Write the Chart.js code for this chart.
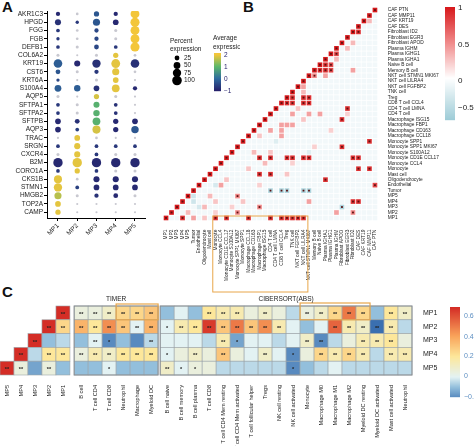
<!DOCTYPE html>
<html>
<head>
<meta charset="utf-8">
<script src="https://cdn.jsdelivr.net/npm/chart.js@4/dist/chart.umd.min.js"></script>
<style>
  body { margin: 0; background: #fff; width: 474px; height: 446px; position: relative; overflow: hidden; font-family: "Liberation Sans", Arial, sans-serif; }
  .box { position: absolute; }
  .tag { position: absolute; font-size: 15px; font-weight: bold; color: #111; }
</style>
</head>
<body>
<div class="tag" style="left:2px;top:-2px">A</div>
<div class="tag" style="left:243px;top:-2px">B</div>
<div class="tag" style="left:2px;top:283px">C</div>
<div class="box" style="left:0;top:0;width:240px;height:285px"><canvas id="chartA"></canvas></div>
<div class="box" style="left:160px;top:0;width:314px;height:295px"><canvas id="chartB"></canvas></div>
<div class="box" style="left:0;top:285px;width:474px;height:161px"><canvas id="chartC"></canvas></div>
<script>
// ---------- panel A data ----------
const genesA = ['AKR1C3','HPGD','FGG','FGB','DEFB1','COL6A2','KRT19','CST6','KRT6A','S100A4','AQP5','SFTPA1','SFTPA2','SFTPB','AQP3','TRAC','SRGN','CXCR4','B2M','CORO1A','CKS1B','STMN1','HMGB2','TOP2A','CAMP'];
const programs = ['MP1','MP2','MP3','MP4','MP5'];
const pctA = [
  [20,8,30,20,85],[40,12,55,35,90],[15,8,20,10,85],[12,8,20,10,85],[15,10,25,15,90],
  [10,5,10,30,8],[80,40,75,85,80],[25,10,20,55,8],[12,5,10,35,5],[50,45,35,65,20],
  [10,5,30,10,5],[15,10,40,15,5],[15,10,45,15,5],[35,25,65,30,35],[35,15,70,30,60],
  [5,35,8,5,5],[15,40,15,15,15],[10,40,15,10,10],[95,95,95,95,95],[15,30,15,10,10],
  [70,8,40,40,40],[75,15,35,35,35],[55,10,20,25,10],[35,5,5,5,5],[30,5,5,5,5]
];
const avgA = [
  [-0.9,-0.6,-0.3,-0.9,2],[-0.8,-0.7,-0.3,-0.9,2],[-0.7,-0.6,-0.5,-0.7,2],[-0.7,-0.6,-0.5,-0.7,2],[-0.7,-0.6,-0.5,-0.7,2],
  [-0.6,-0.5,-0.6,1.9,-0.5],[-0.2,-0.9,-0.8,1.9,-0.8],[-0.3,-0.6,-0.7,1.9,-0.5],[-0.5,-0.5,-0.5,1.9,-0.5],[-0.2,-0.2,-0.8,1.9,-0.9],
  [-0.6,-0.6,1.8,-0.6,-0.6],[-0.7,-0.7,0.9,-0.8,-0.6],[-0.7,-0.7,0.9,-0.8,-0.6],[-0.9,-0.8,0.9,-0.9,-0.9],[-0.9,-0.6,1.8,-0.9,-0.3],
  [-0.5,1.9,-0.5,-0.5,-0.5],[-0.7,1.9,-0.7,-0.7,-0.7],[-0.7,1.9,-0.7,-0.7,-0.7],[-0.9,1.9,-0.9,-0.9,-0.9],[-0.7,1.9,-0.7,-0.7,-0.7],
  [1.9,-0.6,-0.9,-0.9,-0.9],[1.9,-0.6,-0.9,-0.9,-0.9],[1.6,-0.6,-0.8,-0.9,-0.7],[1.9,-0.5,-0.5,-0.5,-0.5],[1.9,-0.5,-0.5,-0.5,-0.5]
];

// ---------- panel B data ----------
const cellTypesB = ['MP1','MP2','MP3','MP4','MP5','Tumor','Endothelial','Oligodendrocyte','Mast cell','Monocyte','Monocyte CCL4','Monocyte CD1E CCL17','Monocyte S100A12','Monocyte SPP1 MKI67','Monocyte SPP1','Macrophage CCL18','Macrophage CD163','Macrophage FBP1','Macrophage ISG15','CD4 T cell','CD4 T cell LMNA','CD8 T cell CCL4','Treg','TNK cell','NKT cell FGFBP2','NKT cell LILRA4','NKT cell STMN1 MKI67','Memory B cell','Naive B cell','Plasma IGHA1','Plasma IGHG1','Plasma IGHM','Fibroblast APOD','Fibroblast EGR3','Fibroblast ID2','CAF DES','CAF KRT19','CAF MMP11','CAF PTN'];
const baselineB = -0.08;
// [row, col, correlation]
const notableB = [
  [34,35,0.9],[30,31,0.8],[28,29,0.9],[28,30,0.8],[27,28,0.9],[27,29,0.9],[27,30,0.8],[27,34,0.4],[26,27,0.5],[26,29,0.4],
  [22,23,0.9],[22,25,0.9],[22,26,0.9],[21,22,0.9],[21,23,0.9],[21,25,0.9],[21,26,0.9],[20,33,0.9],[19,23,0.4],[19,26,0.4],
  [19,28,0.4],[18,32,0.9],[17,21,0.4],[17,22,0.4],[17,23,0.4],[16,19,0.4],[16,21,0.4],[15,21,0.4],[14,37,0.9],[13,32,0.9],
  [11,17,0.9],[11,19,0.9],[11,22,0.9],[11,23,0.9],[11,25,0.9],[11,26,0.9],[11,34,0.9],[11,35,0.9],[9,35,0.9],[9,37,0.9],
  [8,17,0.9],[8,19,0.9],[7,29,0.9],[6,38,0.8],[5,19,-0.5],[5,21,-0.5],[5,22,-0.5],[5,25,-0.5],[5,26,-0.5],[3,34,0.9],
  [3,35,0.9],[3,26,0.4],[2,17,0.5],[2,32,-0.5],[1,31,0.4],[1,34,0.5],[0,3,0.9],[0,5,0.4],[0,9,0.9],[0,11,0.9],
  [0,15,0.9],[0,19,0.9],[0,21,0.9],[0,22,0.9],[0,23,0.9],[0,24,0.9],[0,25,0.9],[4,13,0.5],[1,13,0.5],[6,10,0.4],
  [24,25,0.4],[23,25,0.3],[31,33,0.3],[29,31,0.3],[32,34,0.3],[12,16,0.3],[10,18,0.3],[36,37,0.3],
  [1,4,0.3],[2,7,0.3],[3,9,0.25],[4,8,0.3],[7,11,0.25],[9,15,0.25],[12,19,0.25],[15,17,0.25],[18,25,0.25],[20,24,0.25],
  [0,7,0.25],[1,9,0.2],[2,12,0.2],[3,14,0.25],[6,17,0.2],[8,22,0.25],[10,23,0.2],[13,27,0.2],[16,30,0.2],[19,33,0.2],
  [4,5,-0.3],[6,9,-0.25],[3,5,-0.3],[2,6,-0.25],[12,26,-0.2],[14,20,-0.2]
];

// ---------- panel C data ----------
const rowsC = ['MP1','MP2','MP3','MP4','MP5'];
const triColsC = ['MP5','MP4','MP3','MP2','MP1'];
const triValuesC = [
  [null,null,null,null,0.68],
  [null,null,null,0.68,0.25],
  [null,null,0.68,-0.1,-0.05],
  [null,0.68,-0.05,0.2,0.2],
  [0.68,0.05,-0.15,0.05,-0.1]
];
const triSigC = [
  ['','','','','**'],['','','','**','**'],['','','**','',''],['','**','','**','**'],['**','**','','**','']
];
const timerColsC = ['B cell','T cell CD4','T cell CD8','Neutrophil','Macrophage','Myeloid DC'];
const timerValuesC = [
  [0.05,0.05,0.1,0.25,0.25,0.3],
  [0.35,0.2,0.45,0.3,0.0,0.35],
  [-0.1,0.0,-0.2,-0.1,-0.2,-0.05],
  [0.05,0.15,0.1,0.2,0.2,0.2],
  [-0.1,-0.1,0.0,-0.1,-0.1,-0.1]
];
const timerSigC = [
  ['**','**','**','**','**','**'],['**','**','**','**','**','**'],['','**','*','','','**'],['**','**','**','**','**','**'],['','','*','','','']
];
const ciberColsC = ['B cell naive','B cell memory','B cell plasma','T cell CD8','T cell CD4 Mem resting','T cell CD4 Mem activated','T cell follicular helper','Tregs','NK cell resting','NK cell activated','Monocyte','Macrophage M0','Macrophage M1','Macrophage M2','Myeloid DC resting','Myeloid DC activated','Mast cell activated','Neutrophil'];
const ciberValuesC = [
  [-0.1,0.0,-0.1,0.2,0.15,0.15,0.05,0.1,0.05,-0.05,0.05,0.1,0.25,0.5,0.25,-0.1,0.2,0.1],
  [0.0,0.15,0.2,0.65,0.3,0.5,0.3,0.45,0.15,0.0,-0.1,0.0,0.55,0.15,0.1,-0.25,0.15,-0.05],
  [0.0,0.0,0.0,-0.05,0.15,-0.15,0.0,0.0,-0.05,0.0,0.1,-0.2,-0.05,0.05,0.15,0.15,0.2,0.05],
  [0.0,0.05,0.1,0.05,0.3,0.05,0.0,0.1,0.0,-0.2,0.05,0.25,0.15,0.25,0.15,-0.05,0.15,0.15],
  [0.1,0.0,0.05,0.05,-0.05,-0.05,-0.05,-0.05,-0.05,-0.2,-0.1,-0.05,0.0,-0.05,-0.05,-0.05,-0.05,-0.05]
];
const ciberSigC = [
  ['','','','**','**','**','','**','','','**','**','**','**','**','','**','**'],
  ['*','**','**','**','**','**','**','**','**','','','','**','**','**','**','**',''],
  ['','','','','**','*','','','','','**','**','','','**','**','**',''],
  ['*','','**','','**','','','**','','*','','**','**','**','**','','**','**'],
  ['**','*','*','','','','','','','*','','','','','','','','']
];

const FONT = '"Liberation Sans", Arial, sans-serif';

// ---------- colour helpers ----------
function hexRgb(h) { return [1,3,5].map(i => parseInt(h.substr(i,2),16)); }
function makeRamp(stops) {
  return function (v) {
    if (v <= stops[0][0]) return stops[0][1];
    for (let i = 1; i < stops.length; i++) {
      if (v <= stops[i][0]) {
        const t = (v - stops[i-1][0]) / (stops[i][0] - stops[i-1][0]);
        const a = hexRgb(stops[i-1][1]), b = hexRgb(stops[i][1]);
        const c = a.map((x, k) => Math.round(x + (b[k] - x) * t));
        return `rgb(${c[0]},${c[1]},${c[2]})`;
      }
    }
    return stops[stops.length-1][1];
  };
}
const colorA = makeRamp([[-1,'#26226c'],[0,'#2f6c9e'],[1,'#5cb86a'],[2,'#f3c63a']]);
const colorB = makeRamp([[-0.6,'#9ccbd6'],[0,'#ffffff'],[0.5,'#f08a8a'],[1,'#d7191c']]);
const colorC = makeRamp([[-0.25,'#3a6fb0'],[-0.1,'#93bfdc'],[0,'#e3f2f3'],[0.2,'#fde79a'],[0.4,'#f9a35a'],[0.68,'#d42d26']]);

function vBar(ctx, x, y0, y1, w, ramp, vTop, vBot) {
  for (let y = y0; y < y1; y++) {
    ctx.fillStyle = ramp(vTop + (vBot - vTop) * (y - y0) / (y1 - y0));
    ctx.fillRect(x, y, w, 1.2);
  }
}

// draws cells centred on every point of each dataset
function cellPlugin(wUnits, hUnits, gridColor) {
  return {
    id: 'cells',
    afterDatasetsDraw(chart) {
      const { ctx, scales } = chart;
      const cw = Math.abs(scales.x.getPixelForValue(wUnits) - scales.x.getPixelForValue(0));
      const ch = Math.abs(scales.y.getPixelForValue(hUnits) - scales.y.getPixelForValue(0));
      ctx.save();
      chart.data.datasets.forEach((ds, di) => {
        chart.getDatasetMeta(di).data.forEach((el, i) => {
          const d = ds.data[i];
          ctx.fillStyle = d.fill;
          ctx.fillRect(el.x - cw / 2, el.y - ch / 2, cw, ch);
          if (gridColor) {
            ctx.strokeStyle = gridColor; ctx.lineWidth = 0.6;
            ctx.strokeRect(el.x - cw / 2, el.y - ch / 2, cw, ch);
          }
          if (d.sig) {
            ctx.fillStyle = '#222';
            ctx.font = 'bold 5.5px ' + FONT;
            ctx.textAlign = 'center'; ctx.textBaseline = 'middle';
            ctx.fillText(d.sig, el.x, el.y + 1.5);
          }
          if (d.dot) {
            ctx.fillStyle = '#5a1010';
            ctx.fillRect(el.x - 0.9, el.y - 0.9, 1.8, 1.8);
          }
        });
      });
      ctx.restore();
    }
  };
}

// ---------- panel A ----------
const pointsA = [];
genesA.forEach((g, gi) => programs.forEach((m, mi) => {
  pointsA.push({ x: mi + 1, y: gi + 1, p: pctA[gi][mi], a: avgA[gi][mi] });
}));
const sizeA = p => 4.8 * Math.sqrt(p / 100);

const legendA = {
  id: 'legendA',
  afterDraw(chart) {
    const ctx = chart.ctx;
    ctx.save();
    ctx.fillStyle = '#222';
    ctx.font = '6.5px ' + FONT;
    ctx.textBaseline = 'middle';
    ctx.fillText('Percent', 170, 41);
    ctx.fillText('expression', 170, 49);
    [25, 50, 75, 100].forEach((p, i) => {
      const y = 58 + i * 7.5;
      ctx.beginPath();
      ctx.arc(177, y, sizeA(p), 0, Math.PI * 2);
      ctx.fillStyle = '#000';
      ctx.fill();
      ctx.fillStyle = '#222';
      ctx.fillText(String(p), 184, y);
    });
    ctx.fillText('Average', 213, 38);
    ctx.fillText('expression', 213, 47);
    vBar(ctx, 214, 53, 91, 7, colorA, 2.1, -1.1);
    [[2, 55], [1, 67], [0, 79], [-1, 91]].forEach(([t, y]) => ctx.fillText(t < 0 ? '\u22121' : String(t), 224, y));
    ctx.restore();
  }
};

new Chart(document.getElementById('chartA'), {
  type: 'scatter',
  data: { datasets: [{ data: pointsA,
    pointRadius: c => sizeA(c.raw.p),
    pointHoverRadius: c => sizeA(c.raw.p),
    backgroundColor: c => c.raw.a < -0.45 && c.raw.p < 12 ? '#c8c8d0' : colorA(c.raw.a),
    borderWidth: 0 }] },
  options: {
    responsive: true, maintainAspectRatio: false, animation: false,
    layout: { padding: { left: 0, right: 95, top: 11, bottom: 0 } },
    plugins: { legend: { display: false }, tooltip: { enabled: false } },
    scales: {
      x: {
        type: 'linear', min: 0.43, max: 5.52,
        afterBuildTicks: s => { s.ticks = programs.map((m, i) => ({ value: i + 1 })); },
        afterFit: s => { s.height = 67; },
        ticks: { callback: v => programs[v - 1], maxRotation: 45, minRotation: 45, color: '#222', font: { size: 6.5, family: FONT }, padding: 1 },
        grid: { drawOnChartArea: false, tickLength: 3, color: '#000' },
        border: { color: '#000', width: 1 }
      },
      y: {
        type: 'linear', min: 0.64, max: 25.7, reverse: true,
        afterBuildTicks: s => { s.ticks = genesA.map((g, i) => ({ value: i + 1 })); },
        afterFit: s => { s.width = 47; },
        ticks: { callback: v => genesA[v - 1], color: '#222', font: { size: 6.5, family: FONT }, padding: 1, autoSkip: false },
        grid: { drawOnChartArea: false, tickLength: 3, color: '#000' },
        border: { color: '#000', width: 1 }
      }
    }
  },
  plugins: [legendA]
});

// ---------- panel B ----------
const gridB = {};
cellTypesB.forEach((r, ri) => cellTypesB.forEach((c, ci) => {
  if (ci > ri) gridB[ri + ',' + ci] = baselineB;
}));
notableB.forEach(([r, c, v]) => { gridB[r + ',' + c] = v; });
const pointsB = [];
cellTypesB.forEach((r, ri) => {
  pointsB.push({ x: ri, y: ri, fill: colorB(1), dot: true });
  cellTypesB.forEach((c, ci) => {
    if (ci <= ri) return;
    const v = gridB[ri + ',' + ci];
    pointsB.push({ x: ci, y: ri, fill: colorB(v), dot: Math.abs(v) >= 0.5 });
  });
});

const extrasB = {
  id: 'extrasB',
  afterDraw(chart) {
    const ctx = chart.ctx;
    ctx.save();
    vBar(ctx, 285, 7, 120, 10, colorB, 1.0, -0.6);
    ctx.fillStyle = '#222';
    ctx.font = '8px ' + FONT;
    ctx.textBaseline = 'middle';
    [['1', 8], ['0.5', 45], ['0', 81], ['-0.5', 108]].forEach(([t, y]) => ctx.fillText(t.replace('-', '\u2212'), 298, y));
    // orange highlight box under the columns
    const xs = chart.scales.x;
    ctx.strokeStyle = '#e8a64a'; ctx.lineWidth = 1;
    ctx.strokeRect(xs.getPixelForValue(8.5), 216, xs.getPixelForValue(25.8) - xs.getPixelForValue(8.5), 76);
    ctx.restore();
  }
};

new Chart(document.getElementById('chartB'), {
  type: 'scatter',
  data: { datasets: [{ data: pointsB, pointRadius: 0, pointHoverRadius: 0 }] },
  options: {
    responsive: true, maintainAspectRatio: false, animation: false,
    layout: { padding: { left: 3.3, right: 0, top: 7.3, bottom: 0 } },
    plugins: { legend: { display: false }, tooltip: { enabled: false } },
    scales: {
      x: {
        type: 'linear', min: -0.5, max: 38.5,
        afterBuildTicks: s => { s.ticks = cellTypesB.map((c, i) => ({ value: i })); },
        afterFit: s => { s.height = 74.3; },
        ticks: { callback: v => cellTypesB[v], maxRotation: 90, minRotation: 90, autoSkip: false, color: '#222', font: { size: 4.8, family: FONT }, padding: 1 },
        grid: { display: false }, border: { display: false }
      },
      y: {
        type: 'linear', position: 'right', min: -0.5, max: 38.5,
        afterBuildTicks: s => { s.ticks = cellTypesB.map((c, i) => ({ value: i })); },
        afterFit: s => { s.width = 96.3; },
        ticks: { callback: v => cellTypesB[v], autoSkip: false, color: '#222', font: { size: 4.8, family: FONT }, padding: 2 },
        grid: { display: false }, border: { display: false }
      }
    }
  },
  plugins: [cellPlugin(0.85, 0.85, null), extrasB]
});

// ---------- panel C ----------
const colsC = [];
triColsC.forEach((c, i) => colsC.push({ label: c, pos: i + 0.5 }));
timerColsC.forEach((c, i) => colsC.push({ label: c, pos: 5.3 + i + 0.5 }));
ciberColsC.forEach((c, i) => colsC.push({ label: c, pos: 11.45 + i + 0.5 }));

const pointsC = [];
rowsC.forEach((r, ri) => {
  triColsC.forEach((c, ci) => {
    const v = triValuesC[ri][ci];
    if (v !== null) pointsC.push({ x: colsC[ci].pos, y: ri, fill: colorC(v), sig: triSigC[ri][ci] });
  });
  timerColsC.forEach((c, ci) => pointsC.push({ x: colsC[5 + ci].pos, y: ri, fill: colorC(timerValuesC[ri][ci]), sig: timerSigC[ri][ci] }));
  ciberColsC.forEach((c, ci) => pointsC.push({ x: colsC[11 + ci].pos, y: ri, fill: colorC(ciberValuesC[ri][ci]), sig: ciberSigC[ri][ci] }));
});

const extrasC = {
  id: 'extrasC',
  afterDraw(chart) {
    const { ctx, scales } = chart;
    const xp = v => scales.x.getPixelForValue(v), yp = v => scales.y.getPixelForValue(v);
    ctx.save();
    ctx.strokeStyle = '#8a8f94'; ctx.lineWidth = 1;
    ctx.strokeRect(xp(5.3), yp(-0.5), xp(11.3) - xp(5.3), yp(4.5) - yp(-0.5));
    ctx.strokeRect(xp(11.45), yp(-0.5), xp(29.45) - xp(11.45), yp(4.5) - yp(-0.5));
    ctx.strokeStyle = '#e8a64a'; ctx.lineWidth = 1.2;
    ctx.strokeRect(xp(8.3), 19, xp(11.3) - xp(8.3), yp(0.5) - 19);
    ctx.strokeRect(xp(21.45), 18, xp(26.45) - xp(21.45), yp(0.5) - 18);
    ctx.fillStyle = '#222';
    ctx.font = '6.5px ' + FONT;
    ctx.textAlign = 'center'; ctx.textBaseline = 'middle';
    ctx.fillText('TIMER', xp(8.3), 14);
    ctx.fillText('CIBERSORT(ABS)', xp(20.45), 14);
    vBar(ctx, 450, 22, 112, 10, colorC, 0.68, -0.2);
    ctx.textAlign = 'left';
    ctx.font = '7px ' + FONT;
    [['0.6', 31], ['0.4', 52], ['0.2', 71], ['0', 91], ['\u22120.2', 112]].forEach(([t, y]) => ctx.fillText(t, 464, y));
    ctx.restore();
  }
};

new Chart(document.getElementById('chartC'), {
  type: 'scatter',
  data: { datasets: [{ data: pointsC, pointRadius: 0, pointHoverRadius: 0 }] },
  options: {
    responsive: true, maintainAspectRatio: false, animation: false,
    layout: { padding: { left: 0, right: 0, top: 21, bottom: 0 } },
    plugins: { legend: { display: false }, tooltip: { enabled: false } },
    scales: {
      x: {
        type: 'linear', min: 0, max: 29.45,
        afterBuildTicks: s => { s.ticks = colsC.map(c => ({ value: c.pos })); },
        afterFit: s => { s.height = 71; },
        ticks: { callback: v => (colsC.find(c => Math.abs(c.pos - v) < 0.01) || {}).label, maxRotation: 90, minRotation: 90, autoSkip: false, color: '#222', font: { size: 5.6, family: FONT }, padding: 2 },
        grid: { display: false }, border: { display: false }
      },
      y: {
        type: 'linear', position: 'right', min: -0.5, max: 4.5, reverse: true,
        afterBuildTicks: s => { s.ticks = rowsC.map((r, i) => ({ value: i })); },
        afterFit: s => { s.width = 62; },
        ticks: { callback: v => rowsC[v], color: '#222', font: { size: 7, family: FONT }, padding: 3 },
        grid: { display: false }, border: { display: false }
      }
    }
  },
  plugins: [cellPlugin(1, 1, '#9aa3a8'), extrasC]
});
</script>
</body>
</html>
